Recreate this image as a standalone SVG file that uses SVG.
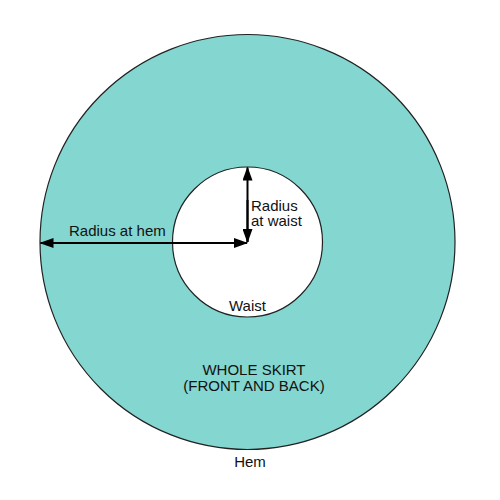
<svg xmlns="http://www.w3.org/2000/svg" width="500" height="500" viewBox="0 0 500 500">
<defs>
<style>
.lbl{font-family:"Liberation Sans",Arial,sans-serif;font-size:15px;fill:#111}
.ring{stroke:#222;stroke-width:1.2}
.arr{stroke:#000;stroke-width:2;fill:none}
</style>
<marker id="ah" viewBox="0 0 14 10" refX="13" refY="5" markerWidth="14" markerHeight="10" markerUnits="userSpaceOnUse" orient="auto">
<path d="M0,0 L14,5 L0,10 Z" fill="#000"/>
</marker>
</defs>
<rect width="500" height="500" fill="#fff"/>
<g id="skirt">
<circle class="ring" cx="247.5" cy="242" r="207.5" fill="#84d6d0"/>
<text class="lbl" x="254" y="375" text-anchor="middle">WHOLE SKIRT</text>
<text class="lbl" x="254" y="391" text-anchor="middle">(FRONT AND BACK)</text>
</g>
<g id="waist">
<circle class="ring" cx="247.5" cy="242" r="75" fill="#fff"/>
<text class="lbl" x="247.5" y="311" text-anchor="middle">Waist</text>
</g>
<g id="hem">
<text class="lbl" x="250" y="467" text-anchor="middle">Hem</text>
</g>
<g id="connectors">
<line class="arr" x1="247" y1="243" x2="40.5" y2="243" marker-end="url(#ah)"/>
<line class="arr" x1="160" y1="243" x2="247" y2="243" marker-end="url(#ah)"/>
<line class="arr" x1="247.5" y1="242" x2="247.5" y2="167.5" marker-end="url(#ah)"/>
<line class="arr" x1="247.5" y1="200" x2="247.5" y2="242" marker-end="url(#ah)"/>
</g>
<g id="labels">
<text class="lbl" x="69" y="236">Radius at hem</text>
<text class="lbl" x="251" y="211">Radius</text>
<text class="lbl" x="251" y="226">at waist</text>
</g>
</svg>
